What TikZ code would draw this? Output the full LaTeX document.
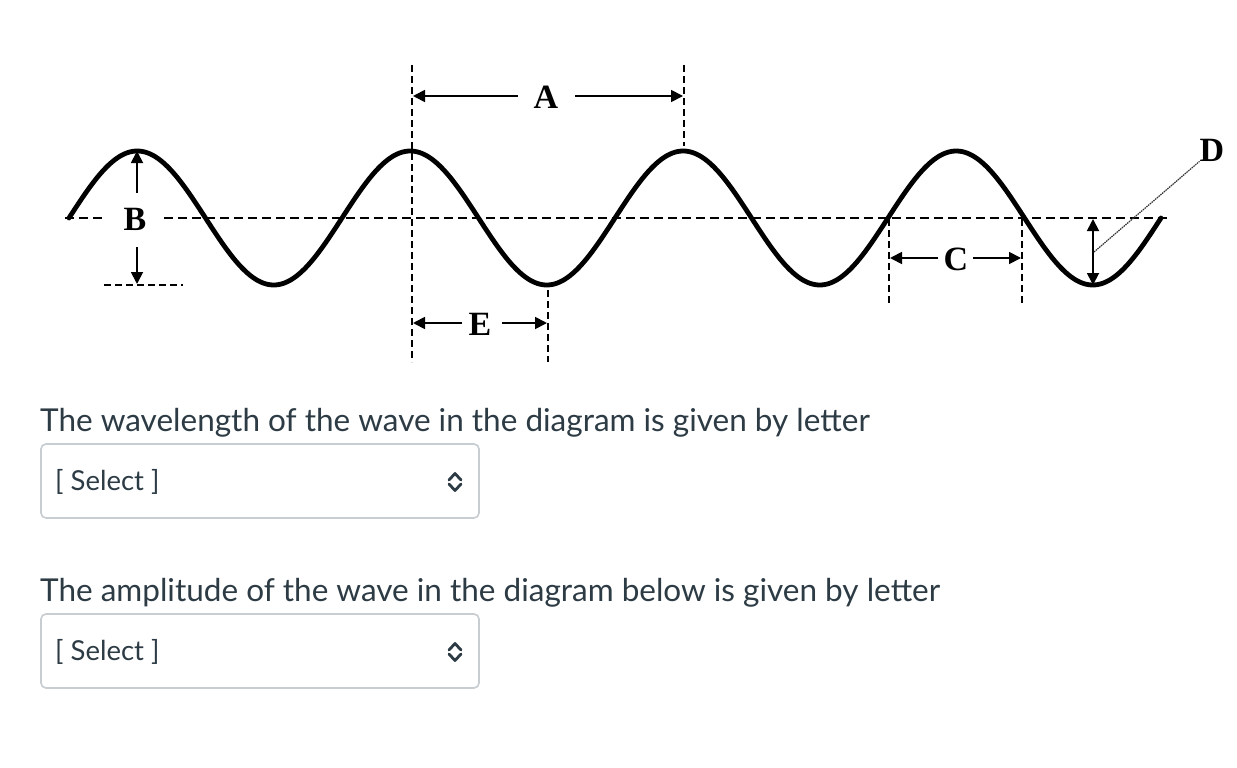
\documentclass[tikz,border=0pt]{standalone}
\usepackage{fontspec}
\setmainfont{Lato}
\newfontfamily\lblfont{Liberation Serif}
\usetikzlibrary{arrows.meta}
\definecolor{txt}{HTML}{2D3B45}
\definecolor{boxline}{HTML}{C7CDD1}
\tikzset{
  wave/.style={line width=4.8pt, black, line join=round, line cap=round},
  guide/.style={line width=1.8pt, black, dash pattern=on 7pt off 4pt},
  dim/.style={line width=1.8pt, black, -{Triangle[length=12pt,width=12pt]}},
  letter/.style={font=\lblfont\bfseries\fontsize{34}{34}\selectfont, inner sep=0pt},
  qtext/.style={font=\fontsize{31.5}{36}\selectfont, text=txt, anchor=base west, inner sep=0pt},
  selbox/.style={draw=boxline, line width=1.6pt, rounded corners=5pt},
  seltext/.style={font=\fontsize{27.5}{30}\selectfont, text=txt, anchor=west, inner sep=0pt},
  chev/.style={line width=2.8pt, txt, line cap=round, line join=round},
}
\begin{document}
\begin{tikzpicture}[x=1pt,y=-1pt]
\useasboundingbox (0,0) rectangle (1237,768);
\fill[white] (0,0) rectangle (1237,768);

% zero line (with gap for B)
\coordinate (z0) at (65,218);
\coordinate (z1) at (106,218);
\coordinate (z2) at (164,218);
\coordinate (z3) at (1168,218);
\draw[guide, dash pattern=on 9pt off 5pt] (z0) -- (z1);
\draw[guide, dash pattern=on 9pt off 5pt] (z2) -- (z3);

% wave
\draw[wave] plot[domain=69:1161, samples=500, smooth] (\x, {218 - 67*sin(1.318681*(\x-69))});

% B
\node[letter] (B) at (135,219) {B};
\coordinate (bt) at (137,151);
\coordinate (bu) at (137,193);
\coordinate (bl) at (137,247);
\coordinate (bb) at (137,284);
\coordinate (bd0) at (104,285);
\coordinate (bd1) at (183,285);
\draw[dim] (bu) -- (bt);
\draw[dim] (bl) -- (bb);
\draw[guide, dash pattern=on 7pt off 4pt] (bd0) -- (bd1);

% A
\coordinate (va0) at (412,65);
\coordinate (va1) at (412,362);
\coordinate (vb0) at (684,65);
\coordinate (vb1) at (684,146);
\draw[guide] (va0) -- (va1);
\draw[guide] (vb0) -- (vb1);
\node[letter] (A) at (546,97) {A};
\coordinate (al) at (413,96);
\coordinate (ar) at (683,96);
\coordinate (a1) at (518,96);
\coordinate (a2) at (575,96);
\draw[dim] (a1) -- (al);
\draw[dim] (a2) -- (ar);

% E
\coordinate (ve0) at (548,290);
\coordinate (ve1) at (548,362);
\draw[guide] (ve0) -- (ve1);
\node[letter] (E) at (480,324) {E};
\coordinate (el) at (413,323);
\coordinate (er) at (547,323);
\coordinate (e1) at (462,323);
\coordinate (e2) at (502,323);
\draw[dim] (e1) -- (el);
\draw[dim] (e2) -- (er);

% C
\coordinate (vc0) at (889,219);
\coordinate (vc1) at (889,304);
\coordinate (vd0) at (1022,219);
\coordinate (vd1) at (1022,304);
\draw[guide] (vc0) -- (vc1);
\draw[guide] (vd0) -- (vd1);
\node[letter] (C) at (956,259) {C};
\coordinate (cl) at (890,258);
\coordinate (cr) at (1021,258);
\coordinate (c1) at (938,258);
\coordinate (c2) at (973,258);
\draw[dim] (c1) -- (cl);
\draw[dim] (c2) -- (cr);

% D
\coordinate (dt) at (1093,219);
\coordinate (db) at (1093,285);
\draw[line width=1.8pt, {Triangle[length=12pt,width=12pt]}-{Triangle[length=12pt,width=12pt]}] (dt) -- (db);
\node[letter] (D) at (1212,150) {D};
\coordinate (dp) at (1094,252);
\draw[line width=1.2pt, black!80, dash pattern=on 1.5pt off 0.8pt] (dp) -- (D.south west);

% questions
\node[qtext] (q1) at (40,431) {The wavelength of the wave in the diagram is given by letter};
\draw[selbox] (41,444) rectangle (479,518);
\node[seltext] (s1) at (55,482) {[ Select ]};
\coordinate (k1) at (455,482);
\draw[chev] ([shift={(-6,-2)}]k1) -- ([shift={(0,-8.5)}]k1) -- ([shift={(6,-2)}]k1);
\draw[chev] ([shift={(-6,2)}]k1) -- ([shift={(0,8.5)}]k1) -- ([shift={(6,2)}]k1);

\node[qtext] (q2) at (40,601) {The amplitude of the wave in the diagram below is given by letter};
\draw[selbox] (41,614) rectangle (479,688);
\node[seltext] (s2) at (55,652) {[ Select ]};
\coordinate (k2) at (455,652);
\draw[chev] ([shift={(-6,-2)}]k2) -- ([shift={(0,-8.5)}]k2) -- ([shift={(6,-2)}]k2);
\draw[chev] ([shift={(-6,2)}]k2) -- ([shift={(0,8.5)}]k2) -- ([shift={(6,2)}]k2);
\end{tikzpicture}
\end{document}
